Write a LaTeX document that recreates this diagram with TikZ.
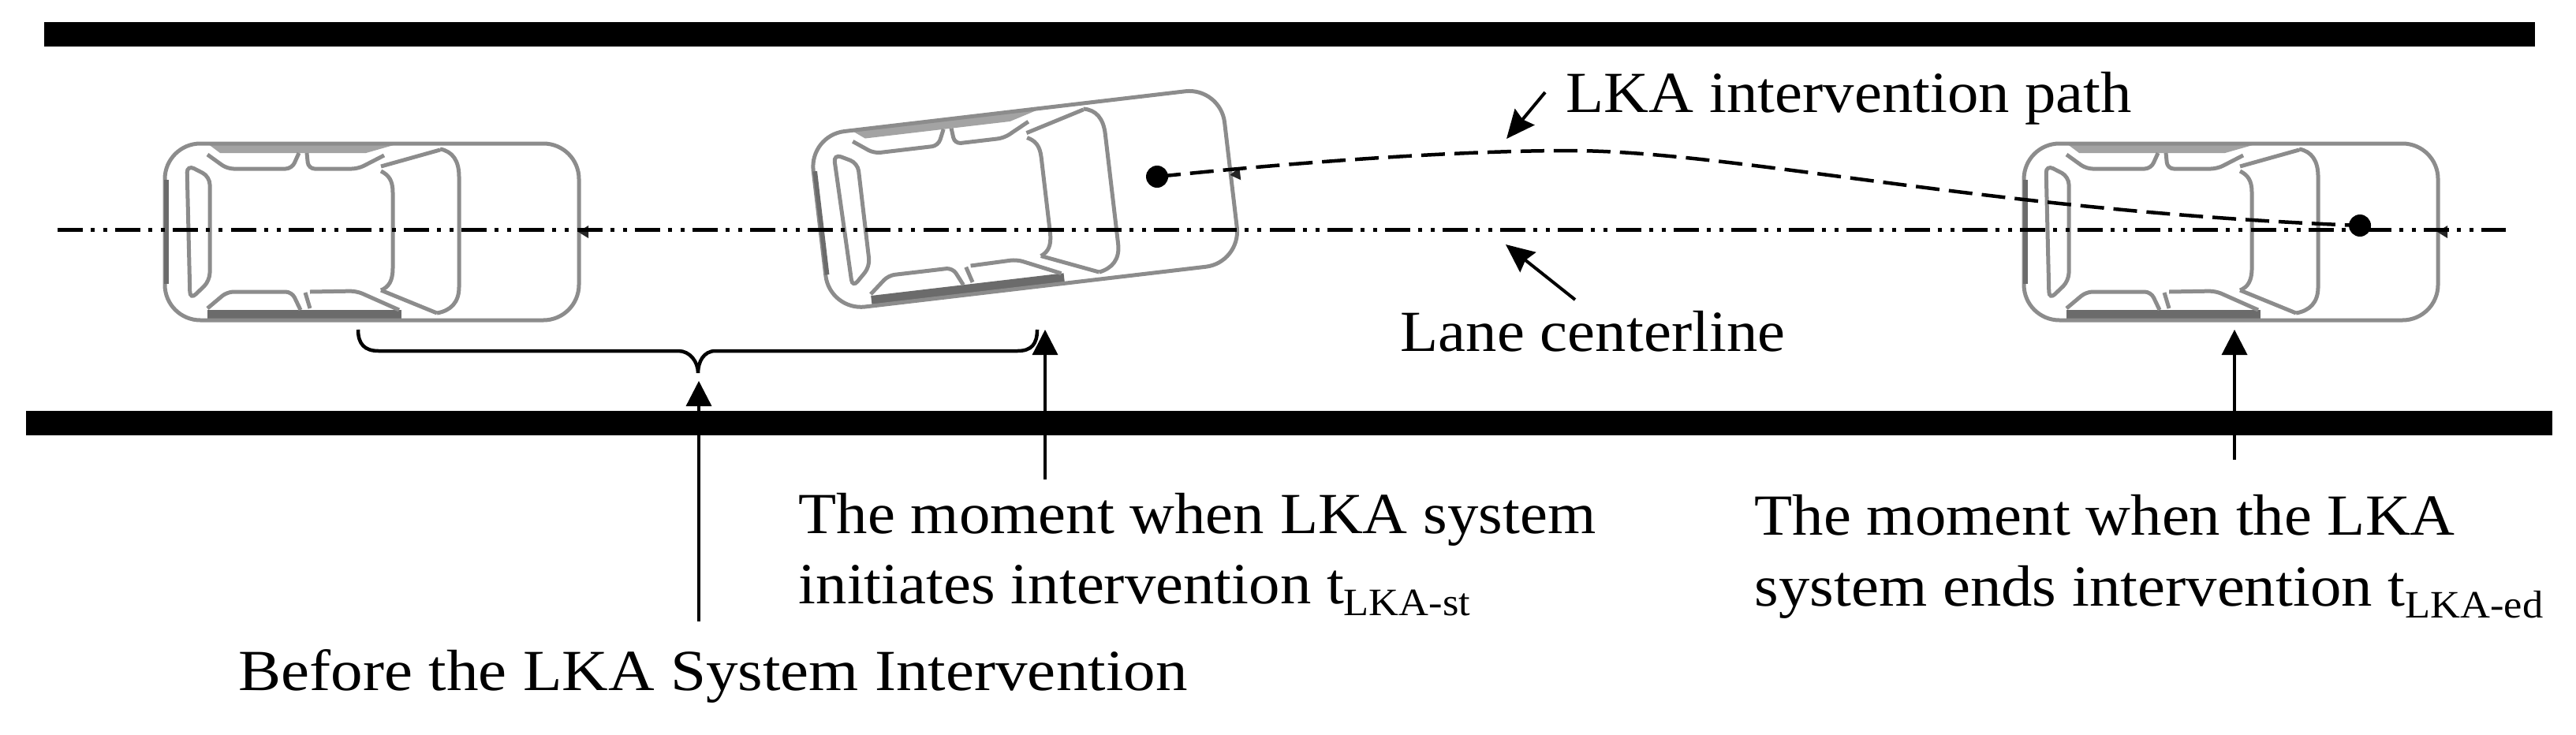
\documentclass[tikz,border=0pt]{standalone}
\usepackage{fontspec}
\setmainfont{Liberation Serif}
\usetikzlibrary{arrows.meta}
\definecolor{carline}{gray}{0.55}
\definecolor{cardark}{gray}{0.42}
\tikzset{
	roadbar/.style={fill=black},
	lanecenter/.style={line width=0.05cm, dash pattern=on 0.32cm off 0.10cm on 0.05cm off 0.11cm on 0.05cm off 0.1017cm},
	lkapath/.style={line width=0.045cm, dash pattern=on 0.30cm off 0.12cm},
	pathdot/.style={circle, fill=black, inner sep=0pt, minimum size=0.28cm},
	uptip/.style={line width=0.035cm, -{Triangle[length=0.32cm,width=0.32cm]}},
	slanttip/.style={line width=0.04cm, -{Stealth[length=0.36cm,width=0.32cm,inset=0.04cm]}},
	bracket/.style={line width=0.045cm},
	carpen/.style={draw=carline, line width=0.05cm},
	labeltext/.style={inner sep=0pt, anchor=base west, xscale=1.067, font=\fontsize{21}{25}\selectfont},
}
\def\subt#1{\raisebox{-0.15cm}{\fontsize{14}{14}\selectfont #1}}
\def\carbody[#1](#2){
	\begin{scope}[shift={(#2)}, rotate=#1]
		\fill[carline!80] (0.54,1.12) -- (2.97,1.12) -- (2.55,1.00) -- (0.70,1.00) -- cycle;
		\fill[cardark] (0.54,-0.99) -- (3.00,-0.99) -- (3.00,-1.12) -- (0.54,-1.12) -- cycle;
		\draw[carpen, rounded corners=0.45cm] (0,-1.12) rectangle (5.25,1.12);
		\draw[cardark, line width=0.055cm] (0.02,-0.66) -- (0.02,0.66);
		\draw[carpen, rounded corners=0.10cm] (0.28,0.85) -- (0.57,0.70) -- (0.57,-0.62) -- (0.32,-0.86) -- cycle;
		\draw[carpen, rounded corners=0.08cm] (0.54,0.98) -- (0.79,0.80) -- (1.61,0.80) -- (1.70,1.00);
		\draw[carpen, rounded corners=0.08cm] (1.80,1.00) -- (1.82,0.80) -- (2.45,0.80) -- (2.78,0.97);
		\draw[carpen, rounded corners=0.08cm] (0.54,-0.97) -- (0.79,-0.76) -- (1.61,-0.76) -- (1.72,-0.99);
		\draw[carpen] (1.78,-0.77) -- (1.84,-0.97);
		\draw[carpen, rounded corners=0.08cm] (1.84,-0.76) -- (2.43,-0.75) -- (2.97,-0.99);
		\draw[carpen] (2.74,0.77) .. controls (2.84,0.72) and (2.89,0.65) .. (2.89,0.50)
			-- (2.89,-0.46) .. controls (2.89,-0.62) and (2.84,-0.70) .. (2.74,-0.74);
		\draw[carpen] (2.74,0.83) -- (3.49,1.04);
		\draw[carpen] (2.74,-0.74) -- (3.45,-1.03);
		\draw[carpen] (3.49,1.05) .. controls (3.65,1.02) and (3.73,0.90) .. (3.73,0.70)
			-- (3.73,-0.70) .. controls (3.73,-0.90) and (3.62,-1.00) .. (3.45,-1.03);
		\fill[black!85] (5.24,0) -- (5.37,0.08) -- (5.37,-0.08) -- cycle;
	\end{scope}
}

\begin{document}
\begin{tikzpicture}
	%%%%% road %%%%%
	\useasboundingbox (0, 0) rectangle (32.66, 9.31);
	\fill[roadbar] (0.56, 9.03) rectangle (32.14, 8.72);
	\fill[roadbar] (0.33, 4.10) rectangle (32.36, 3.79);
	
	%%%%% cars %%%%%
	\carbody[0](2.09, 6.37)
	\carbody[6.7](10.39, 6.48)
	\carbody[0](25.66, 6.37)
	
	%%%%% lane and path %%%%%
	\coordinate (laneleft) at (0.73, 6.395);
	\coordinate (laneright) at (31.77, 6.395);
	\draw[lanecenter] (laneleft) -- (laneright);
	
	\node[pathdot] (pathstart) at (14.67, 7.07) {};
	\node[pathdot] (pathend) at (29.92, 6.45) {};
	\coordinate (pathpeak) at (19.89, 7.40);
	\draw[lkapath] (pathstart.center) .. controls (16.50, 7.26) and (18.50, 7.40) .. (pathpeak)
		.. controls (22.00, 7.40) and (25.20, 6.63) .. (pathend.center);
	
	%%%%% brace %%%%%
	\coordinate (braceleft) at (4.54, 5.13);
	\coordinate (braceright) at (13.15, 5.13);
	\coordinate (bracetip) at (8.85, 4.58);
	\draw[bracket] (braceleft) .. controls (4.54, 4.95) and (4.62, 4.86) .. (4.80, 4.86)
		-- (8.60, 4.86) .. controls (8.75, 4.86) and (8.85, 4.72) .. (bracetip)
		.. controls (8.85, 4.72) and (8.92, 4.86) .. (9.07, 4.86)
		-- (12.90, 4.86) .. controls (13.08, 4.86) and (13.15, 4.95) .. (braceright);
	
	%%%%% arrows %%%%%
	\coordinate (beforefoot) at (8.86, 1.43);
	\coordinate (beforehead) at (8.86, 4.48);
	\draw[uptip] (beforefoot) -- (beforehead);
	\coordinate (startfoot) at (13.25, 3.23);
	\coordinate (starthead) at (13.25, 5.13);
	\draw[uptip] (startfoot) -- (starthead);
	\coordinate (endfoot) at (28.33, 3.48);
	\coordinate (endhead) at (28.33, 5.13);
	\draw[uptip] (endfoot) -- (endhead);
	\coordinate (pathfoot) at (19.59, 8.14);
	\coordinate (pathhead) at (19.10, 7.55);
	\draw[slanttip] (pathfoot) -- (pathhead);
	\coordinate (lanefoot) at (19.97, 5.51);
	\coordinate (lanehead) at (19.09, 6.21);
	\draw[slanttip] (lanefoot) -- (lanehead);
	
	%%%%% labels %%%%%
	\node[labeltext] (pathlabel) at (19.85, 7.89) {LKA intervention path};
	\node[labeltext] (lanelabel) at (17.75, 4.86) {Lane centerline};
	\node[labeltext] (startone) at (10.12, 2.55) {The moment when LKA system};
	\node[labeltext] (starttwo) at (10.12, 1.66) {initiates intervention t\subt{LKA-st}};
	\node[labeltext] (endone) at (22.24, 2.53) {The moment when the LKA};
	\node[labeltext] (endtwo) at (22.24, 1.63) {system ends intervention t\subt{LKA-ed}};
	\node[labeltext, xscale=1.03] (beforelabel) at (3.02, 0.56) {Before the LKA System Intervention};
\end{tikzpicture}
\end{document}
